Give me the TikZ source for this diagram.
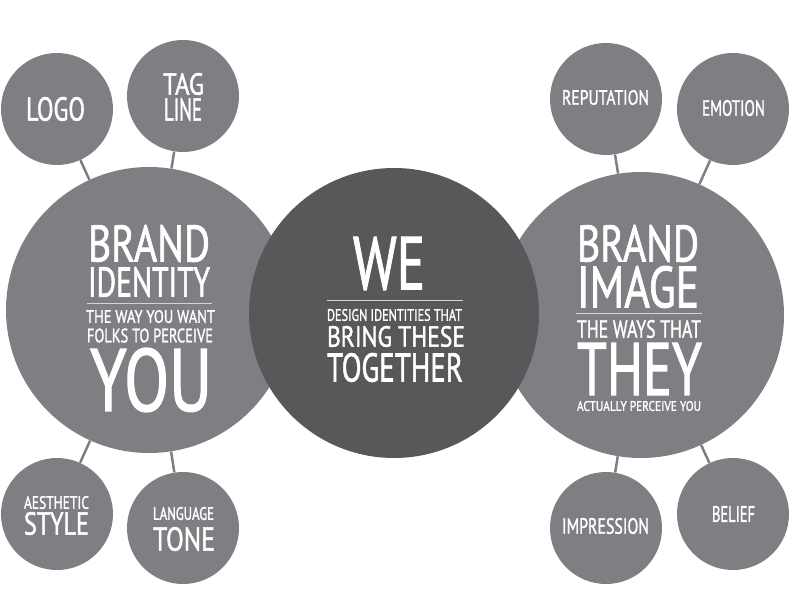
\documentclass[tikz,border=0pt]{standalone}
\usepackage{fontspec}
\setmainfont{PT Sans}
\newfontfamily\wordfont{PT Sans}[FakeBold=1.6]
\usepackage{graphicx}
\definecolor{bubblegray}{RGB}{126,127,131}
\definecolor{coregray}{RGB}{88,88,90}
\definecolor{rulegray}{RGB}{212,212,214}
% squeeze a line of caps into a box of given width and height (pt)
\newcommand{\fitword}[3]{\resizebox*{#1pt}{#2pt}{#3}}

\begin{document}
\begin{tikzpicture}[x=1pt,y=-1pt]
	\tikzstyle{bubble}=[circle,fill=bubblegray,inner sep=0pt,minimum size=112pt]
	\tikzstyle{bigbubble}=[circle,fill=bubblegray,inner sep=0pt,minimum size=286pt]
	\tikzstyle{corebubble}=[circle,fill=coregray,inner sep=0pt,minimum size=290pt]
	\tikzstyle{word}=[text=white,inner sep=0pt,font=\wordfont]
	\tikzstyle{link}=[draw=bubblegray,line width=2.5pt]
	\tikzstyle{divider}=[draw=rulegray,line width=1pt]
	\useasboundingbox (0,0) rectangle (792,612);

	% big circles
	\node[bigbubble] (ident) at (149,310) {};
	\node[bigbubble] (image) at (641,315) {};
	\node[corebubble] (we) at (394,313) {};

	% small circles
	\node[bubble] (logo) at (57,109) {};
	\node[bubble] (tagline) at (183,96) {};
	\node[bubble] (style) at (57,514) {};
	\node[bubble] (tone) at (183,528) {};
	\node[bubble] (reputation) at (606,99) {};
	\node[bubble] (emotion) at (733,109) {};
	\node[bubble] (impression) at (606,528) {};
	\node[bubble] (belief) at (733,514) {};

	\draw[link] (logo) -- (ident) (tagline) -- (ident) (style) -- (ident) (tone) -- (ident);
	\draw[link] (reputation) -- (image) (emotion) -- (image) (impression) -- (image) (belief) -- (image);

	% brand identity
	\node[word] (id_1) at (149,243.5) {\fitword{122}{37}{BRAND}};
	\node[word] (id_2) at (149,282) {\fitword{122}{30}{IDENTITY}};
	\draw[divider] (87,303) -- (212,303);
	\node[word] (id_3) at (150.5,316.5) {\fitword{129}{13}{THE WAY YOU WANT}};
	\node[word] (id_4) at (150,335.5) {\fitword{126}{14}{FOLKS TO PERCEIVE}};
	\node[word] (id_5) at (151,380) {\fitword{122}{64}{YOU}};

	% we
	\node[word] (we_1) at (389,263.5) {\fitword{72}{53}{WE}};
	\draw[divider] (327,300) -- (463,300);
	\node[word] (we_2) at (394.5,315) {\fitword{135}{12}{DESIGN IDENTITIES THAT}};
	\node[word] (we_3) at (396,336.5) {\fitword{138}{21}{BRING THESE}};
	\node[word] (we_4) at (395,367.5) {\fitword{136}{29}{TOGETHER}};

	% brand image
	\node[word] (im_1) at (638,243.5) {\fitword{122}{37}{BRAND}};
	\node[word] (im_2) at (638,287) {\fitword{122}{42}{IMAGE}};
	\draw[divider] (576,313) -- (702,313);
	\node[word] (im_3) at (639,329) {\fitword{124}{18}{THE WAYS THAT}};
	\node[word] (im_4) at (639.5,369) {\fitword{125}{52}{THEY}};
	\node[word] (im_5) at (639,406) {\fitword{124}{10}{ACTUALLY PERCEIVE YOU}};

	% small labels
	\node[word] (lb_logo) at (55.5,109) {\fitword{59}{24}{LOGO}};
	\node[word] (lb_tag) at (183.5,84) {\fitword{41}{22}{TAG}};
	\node[word] (lb_line) at (183,109.5) {\fitword{38}{23}{LINE}};
	\node[word] (lb_aes) at (56.5,502.5) {\fitword{65}{13}{AESTHETIC}};
	\node[word] (lb_style) at (56.5,523.5) {\fitword{65}{23}{STYLE}};
	\node[word] (lb_lang) at (183.5,513.5) {\fitword{61}{13}{LANGUAGE}};
	\node[word] (lb_tone) at (184,539) {\fitword{62}{24}{TONE}};
	\node[word] (lb_rep) at (605.5,97.5) {\fitword{87}{15}{REPUTATION}};
	\node[word] (lb_emo) at (733.5,108) {\fitword{63}{16}{EMOTION}};
	\node[word] (lb_imp) at (605.5,526) {\fitword{87}{16}{IMPRESSION}};
	\node[word] (lb_bel) at (733.5,514) {\fitword{43}{16}{BELIEF}};
\end{tikzpicture}
\end{document}
